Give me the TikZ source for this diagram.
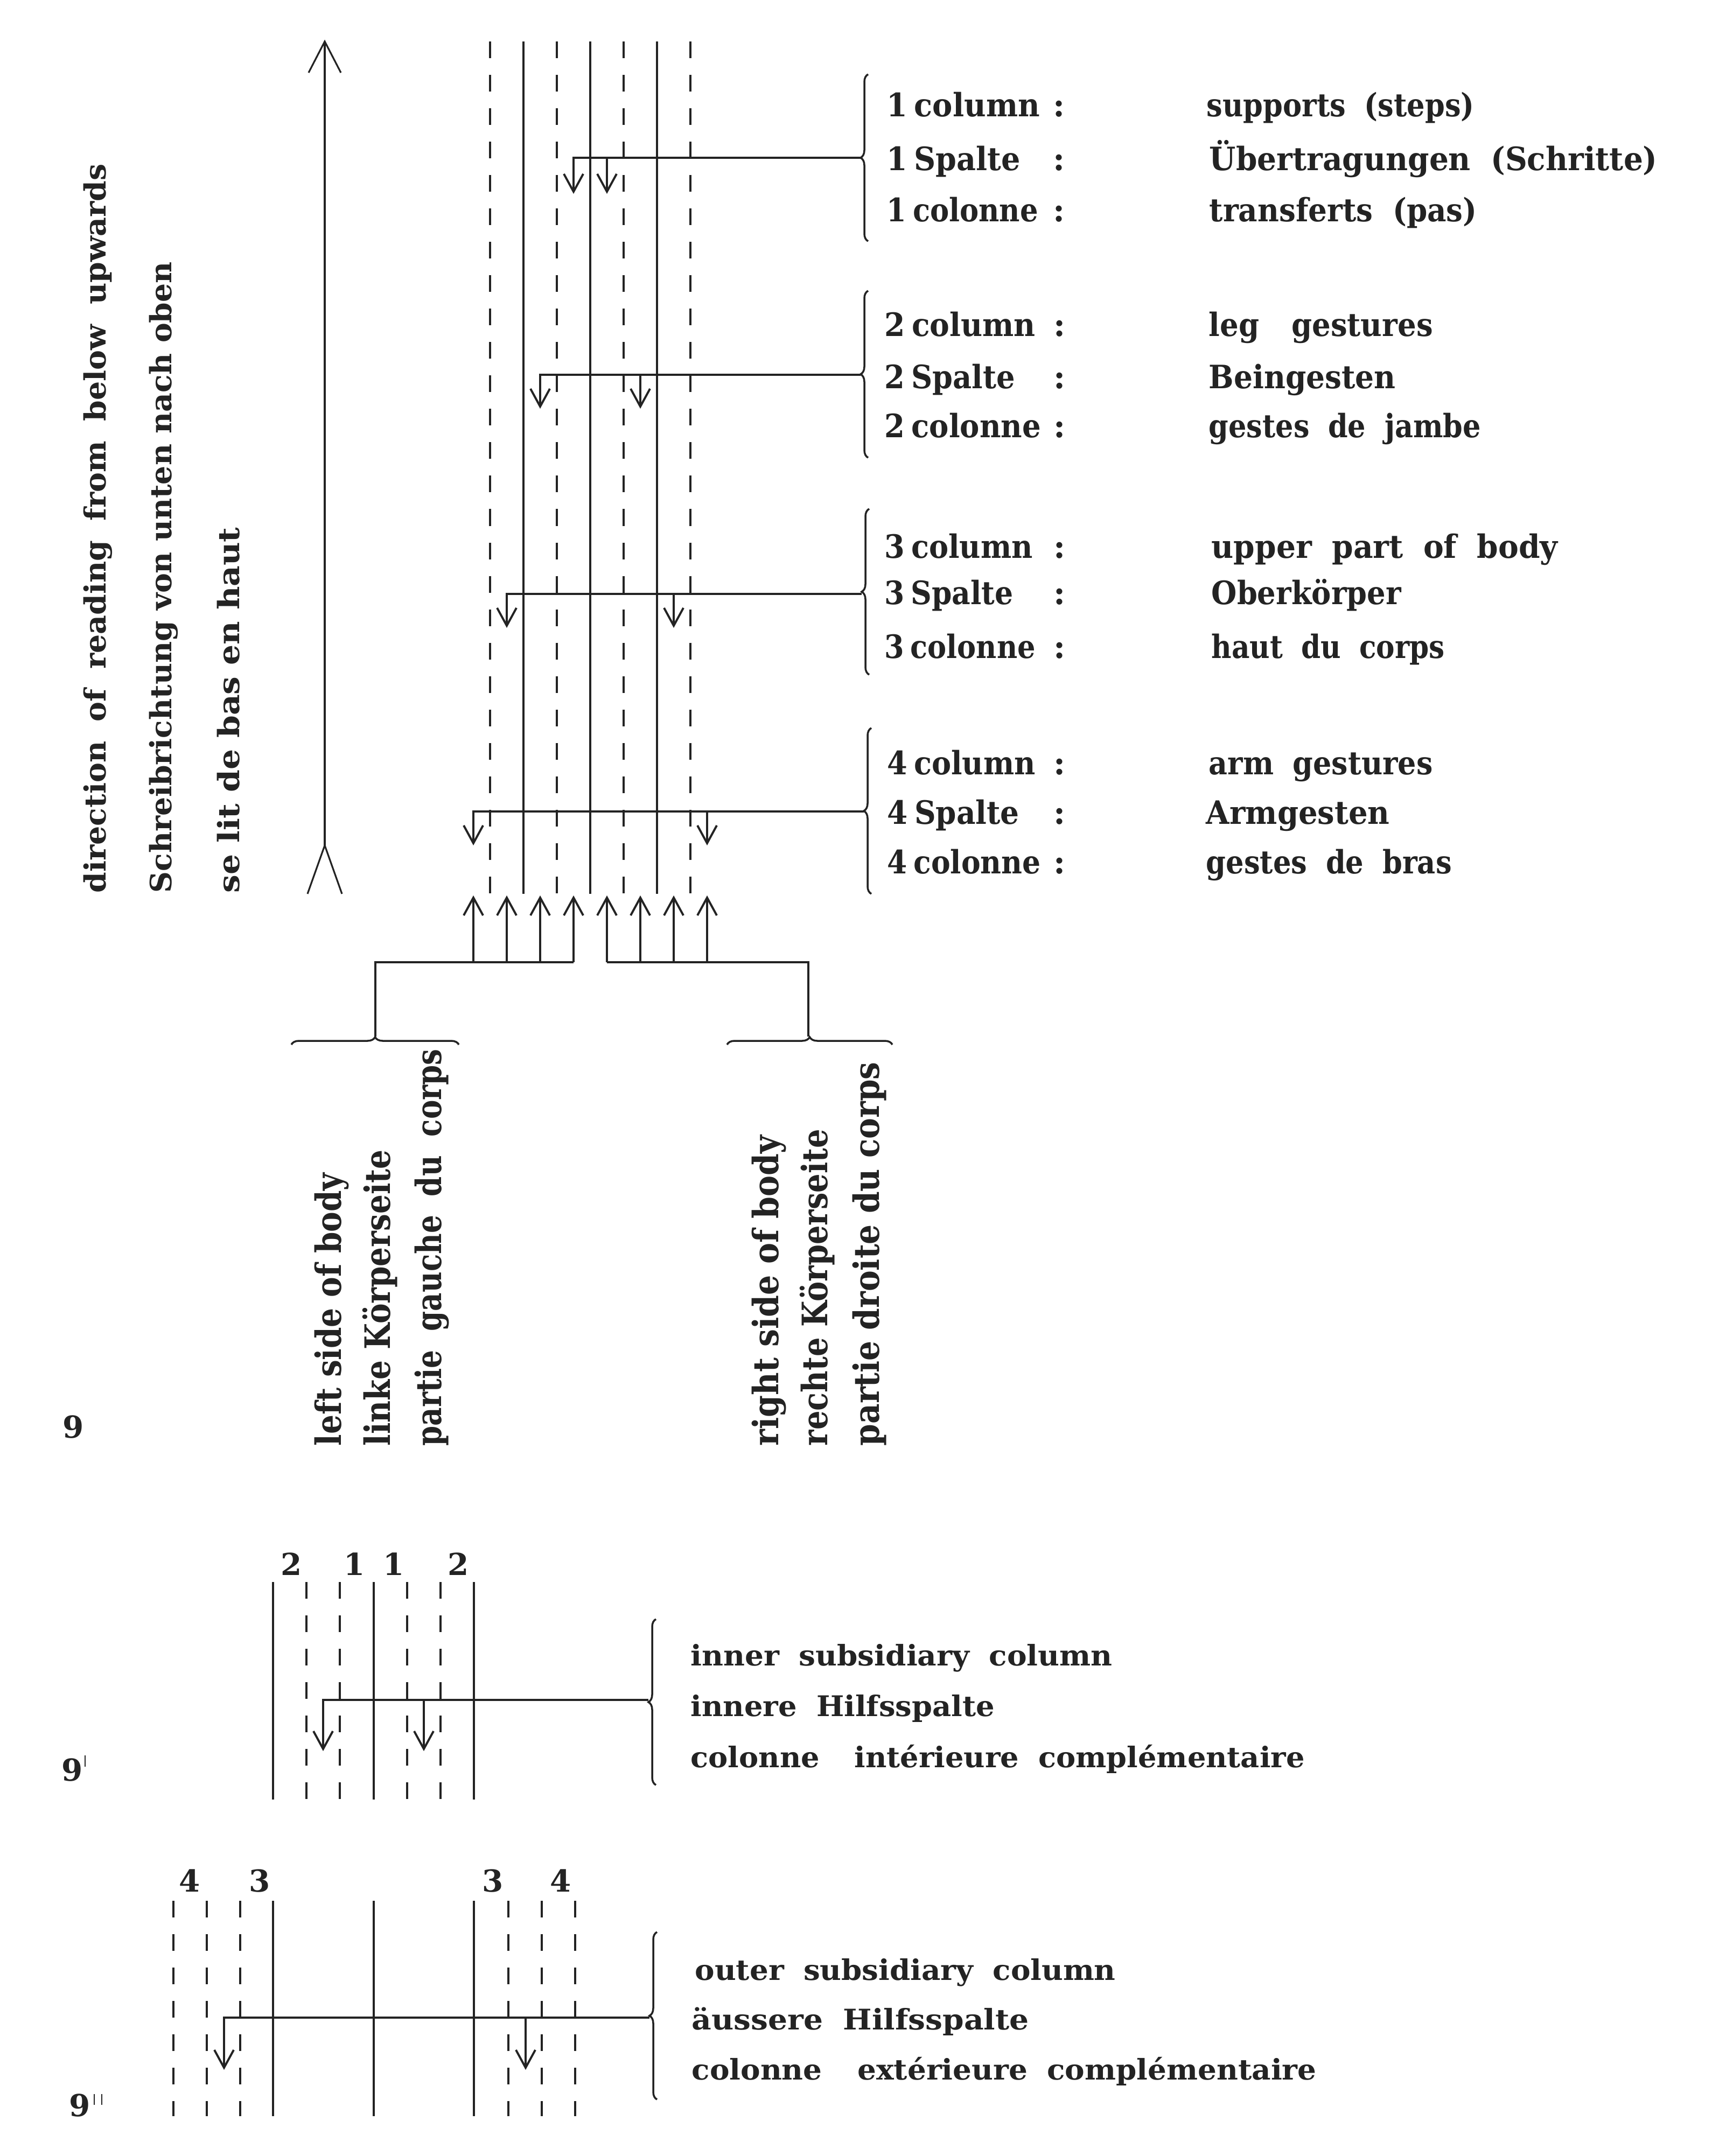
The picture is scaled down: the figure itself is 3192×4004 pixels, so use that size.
\documentclass[tikz,border=0pt]{standalone}
\usepackage{fontspec}
\setmainfont{DejaVu Serif}
\newfontfamily\wide{DejaVu Serif}[WordSpace=1.9]
\usepackage{graphicx}
\usetikzlibrary{arrows.meta,decorations.pathreplacing}
\newlength\pxu \setlength\pxu{0.01cm}
\newcommand\fitw[2]{\resizebox{#1\pxu}{\height}{#2}}
\definecolor{ink}{RGB}{35,35,35}
\begin{document}
\begin{tikzpicture}[x=0.01cm,y=-0.01cm,
  solidln/.style={line width=0.9pt,draw=ink},
  dashln/.style={line width=1pt,draw=ink,dash pattern=on 0.31cm off 0.31cm},
  conn/.style={line width=1.2pt,draw=ink},
  darr/.style={conn,-{Straight Barb[length=0.33cm,width=0.36cm,line width=1.1pt]}},
  brc/.style={decorate,decoration={brace,amplitude=0.14cm},line width=1pt,draw=ink},
  lbl/.style={inner sep=0pt,anchor=base west,text=ink,font=\wide\bfseries\fontsize{17}{20}\selectfont},
  colon/.style={inner sep=0pt,anchor=base,text=ink,font=\bfseries\fontsize{17}{20}\selectfont},
  vlbl/.style={inner sep=0pt,anchor=base west,rotate=90,text=ink,font=\bfseries\fontsize{15.5}{18}\selectfont},
  blbl/.style={inner sep=0pt,anchor=base west,rotate=90,text=ink,font=\bfseries\fontsize{18.5}{22}\selectfont},
  slbl/.style={inner sep=0pt,anchor=base west,text=ink,font=\wide\bfseries\fontsize{15}{18}\selectfont},
  dig/.style={inner sep=0pt,anchor=base,text=ink,font=\bfseries\fontsize{16}{18}\selectfont},
  fig/.style={inner sep=0pt,anchor=base west,text=ink,font=\bfseries\fontsize{16}{18}\selectfont},
]
\useasboundingbox (0,0) rectangle (3192,4004);
\fill[white] (0,0) rectangle (3192,4004);

% ---------- reading direction arrow and texts
\coordinate (rtop) at (603,77);
\coordinate (rbot) at (603,1570);
\draw[solidln] (rtop) -- (rbot);
\draw[solidln] (573,135) -- (rtop) -- (633,135);
\draw[solidln] (571,1660) -- (rbot) -- (635,1660);
\node[vlbl,font=\wide\bfseries\fontsize{15.5}{18}\selectfont] (v1) at (196,1659) {\fitw{1354}{direction of reading from below upwards}};
\node[vlbl] (v2) at (318,1659) {\fitw{1172}{Schreibrichtung von unten nach oben}};
\node[vlbl] (v3) at (444,1659) {\fitw{679}{se lit de bas en haut}};

% ---------- staff lines
\foreach \i/\s in {0/dashln,1/solidln,2/dashln,3/solidln,4/dashln,5/solidln,6/dashln}
  \draw[\s] ({910+62*\i},77) -- ({910+62*\i},1660);

% ---------- braces of the four column groups
\draw[brc] (1612,448) -- (1612,138);
\draw[brc] (1612,850) -- (1612,540);
\draw[brc] (1614,1253) -- (1614,945);
\draw[brc] (1618,1660) -- (1618,1352);
\coordinate (b1) at (1598,293);
\coordinate (b2) at (1598,696);
\coordinate (b3) at (1600,1103);
\coordinate (b4) at (1604,1507);

% ---------- connectors
\draw[darr] (b1) -- (1065,293) -- (1065,360);
\draw[darr] (1127,293) -- (1127,360);
\draw[darr] (b2) -- (1003,696) -- (1003,759);
\draw[darr] (1189,696) -- (1189,759);
\draw[darr] (b3) -- (941,1103) -- (941,1166);
\draw[darr] (1251,1103) -- (1251,1166);
\draw[darr] (b4) -- (879,1507) -- (879,1570);
\draw[darr] (1313,1507) -- (1313,1570);

% ---------- group texts
\newcommand\nsp{\hspace{0.22em}}
\node[lbl] (g1a) at (1646,217) {\fitw{284}{1\nsp column}};
\node[lbl] (g1b) at (1646,317) {\fitw{248}{1\nsp Spalte}};
\node[lbl] (g1c) at (1646,412) {\fitw{281}{1\nsp colonne}};
\node[colon] (g1ac) at (1966,217) {:};
\node[colon] (g1bc) at (1966,317) {:};
\node[colon] (g1cc) at (1966,412) {:};
\node[lbl] (g1ad) at (2240,217) {\fitw{497}{supports (steps)}};
\node[lbl] (g1bd) at (2245,317) {\fitw{832}{Übertragungen (Schritte)}};
\node[lbl] (g1cd) at (2245,412) {\fitw{497}{transferts (pas)}};

\node[lbl] (g2a) at (1642,625) {\fitw{280}{2\nsp column}};
\node[lbl] (g2b) at (1642,722) {\fitw{242}{2\nsp Spalte}};
\node[lbl] (g2c) at (1642,813) {\fitw{290}{2\nsp colonne}};
\node[colon] (g2ac) at (1968,625) {:};
\node[colon] (g2bc) at (1968,722) {:};
\node[colon] (g2cc) at (1968,813) {:};
\node[lbl] (g2ad) at (2244,625) {\fitw{416}{leg\hspace{1.1em}gestures}};
\node[lbl] (g2bd) at (2244,722) {\fitw{347}{Beingesten}};
\node[lbl] (g2cd) at (2244,813) {\fitw{505}{gestes de jambe}};

\node[lbl] (g3a) at (1642,1037) {\fitw{275}{3\nsp column}};
\node[lbl] (g3b) at (1642,1123) {\fitw{239}{3\nsp Spalte}};
\node[lbl] (g3c) at (1642,1222) {\fitw{280}{3\nsp colonne}};
\node[colon] (g3ac) at (1968,1037) {:};
\node[colon] (g3bc) at (1968,1123) {:};
\node[colon] (g3cc) at (1968,1222) {:};
\node[lbl] (g3ad) at (2249,1037) {\fitw{643}{upper part of body}};
\node[lbl] (g3bd) at (2249,1123) {\fitw{352}{Oberkörper}};
\node[lbl] (g3cd) at (2249,1222) {\fitw{433}{haut du corps}};

\node[lbl] (g4a) at (1647,1438) {\fitw{275}{4\nsp column}};
\node[lbl] (g4b) at (1647,1530) {\fitw{245}{4\nsp Spalte}};
\node[lbl] (g4c) at (1647,1622) {\fitw{285}{4\nsp colonne}};
\node[colon] (g4ac) at (1968,1438) {:};
\node[colon] (g4bc) at (1968,1530) {:};
\node[colon] (g4cc) at (1968,1622) {:};
\node[lbl] (g4ad) at (2244,1438) {\fitw{416}{arm gestures}};
\node[lbl] (g4bd) at (2239,1530) {\fitw{341}{Armgesten}};
\node[lbl] (g4cd) at (2239,1622) {\fitw{456}{gestes de bras}};

% ---------- upward arrows and body sides
\foreach \j in {0,...,7}
  \draw[darr] ({879+62*\j},1787) -- ({879+62*\j},1663);
\coordinate (lt) at (697,1925);
\coordinate (rt) at (1501,1925);
\draw[conn] (lt) -- (697,1787) -- (1065,1787);
\draw[conn] (rt) -- (1501,1787) -- (1127,1787);
\draw[brc] (541,1940) -- (852,1940);
\draw[brc] (1350,1940) -- (1657,1940);

\node[blbl] (l1) at (633,2686) {\fitw{507}{left side of body}};
\node[blbl] (l2) at (724,2686) {\fitw{550}{linke Körperseite}};
\node[blbl,font=\wide\bfseries\fontsize{18.5}{22}\selectfont] (l3) at (819,2686) {\fitw{737}{partie gauche du corps}};
\node[blbl] (r1) at (1445,2686) {\fitw{577}{right side of body}};
\node[blbl] (r2) at (1536,2686) {\fitw{588}{rechte Körperseite}};
\node[blbl] (r3) at (1632,2686) {\fitw{713}{partie droite du corps}};

\node[fig] (f9) at (116,2670) {9};

% ---------- figure 9'
\foreach \x/\s in {507/solidln,569/dashln,631/dashln,694/solidln,756/dashln,818/dashln,880/solidln}
  \draw[\s] (\x,2938) -- (\x,3342);
\node[dig] (n2a) at (541,2925) {2};
\node[dig] (n1a) at (658,2925) {1};
\node[dig] (n1b) at (731,2925) {1};
\node[dig] (n2b) at (851,2925) {2};
\draw[brc] (1218,3315) -- (1218,3007);
\coordinate (c1) at (1204,3157);
\draw[darr] (c1) -- (600,3157) -- (600,3252);
\draw[darr] (787,3157) -- (787,3252);
\node[slbl] (s1) at (1282,3093) {\fitw{783}{inner subsidiary column}};
\node[slbl] (s2) at (1282,3187) {\fitw{564}{innere Hilfsspalte}};
\node[slbl] (s3) at (1282,3282) {\fitw{1140}{colonne\hspace{1.2em}intérieure complémentaire}};
\node[fig] (f9a) at (114,3307) {9};
\draw[line width=0.8pt,ink] (158,3260) -- (158,3281);

% ---------- figure 9''
\foreach \x/\s in {322/dashln,384/dashln,446/dashln,507/solidln,694/solidln,880/solidln,944/dashln,1006/dashln,1068/dashln}
  \draw[\s] (\x,3530) -- (\x,3930);
\node[dig] (n4a) at (352,3513) {4};
\node[dig] (n3a) at (482,3513) {3};
\node[dig] (n3b) at (915,3513) {3};
\node[dig] (n4b) at (1041,3513) {4};
\draw[brc] (1220,3899) -- (1220,3588);
\coordinate (c2) at (1206,3747);
\draw[darr] (c2) -- (416,3747) -- (416,3844);
\draw[darr] (976,3747) -- (976,3844);
\node[slbl] (t1) at (1290,3677) {\fitw{781}{outer subsidiary column}};
\node[slbl] (t2) at (1284,3769) {\fitw{626}{äussere Hilfsspalte}};
\node[slbl] (t3) at (1284,3862) {\fitw{1160}{colonne\hspace{1.2em}extérieure complémentaire}};
\node[fig] (f9b) at (128,3930) {9};
\draw[line width=0.8pt,ink] (175,3889) -- (175,3909);
\draw[line width=0.8pt,ink] (189,3889) -- (189,3909);
\end{tikzpicture}
\end{document}
